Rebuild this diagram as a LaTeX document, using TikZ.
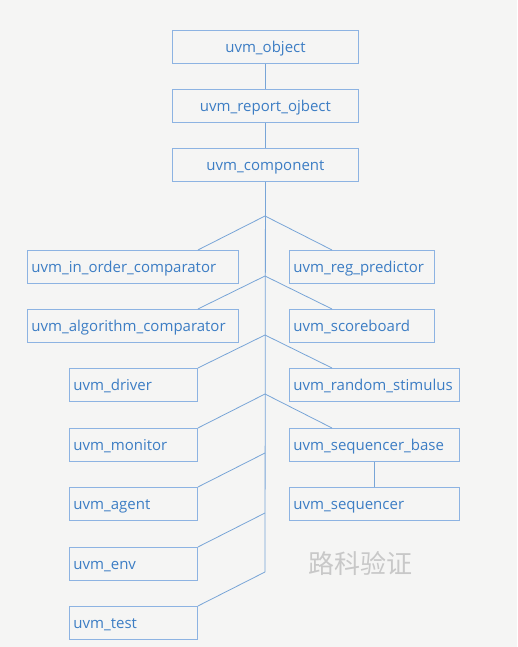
\documentclass[tikz,border=0pt]{standalone}
\usepackage{fontspec}
\setmainfont{Open Sans}
\newfontfamily\cjkfont{Noto Sans CJK SC}
\usepackage{xcolor}
\usepackage{tikz}
\usetikzlibrary{positioning, calc}
\definecolor{uvmBack}{RGB}{245, 245, 244}
\definecolor{uvmLine}{RGB}{141, 179, 226}
\definecolor{uvmEdge}{RGB}{120, 165, 215}
\definecolor{uvmText}{RGB}{60, 125, 196}
\definecolor{uvmMark}{RGB}{200, 200, 200}
\tikzset{
    base/.style={
        font=\fontsize{15}{17}\selectfont,
        text=uvmText
    },
    cls/.style={
        base,
        rectangle,
        draw=uvmLine,
        line width=0.9pt,
        fill=uvmBack,
        minimum height=33pt,
        text height=14pt,
        text depth=3pt,
        inner xsep=4pt,
        inner ysep=0pt,
        anchor=north west
    },
    topcls/.style={
        cls,
        minimum width=186pt
    },
    leftcls/.style={
        cls,
        text width=#1,
        align=left
    },
    link/.style={
        draw=uvmEdge,
        line width=0.8pt
    }
}

\begin{document}
\begin{tikzpicture}[x=1pt, y=-1pt]
  \useasboundingbox[fill=uvmBack] (0,0) rectangle (517,647);

  % Base classes
  \node[topcls] (obj) at (172,30) {uvm\_object};
  \node[topcls] (rpt) at (172,89) {uvm\_report\_ojbect};
  \node[topcls] (comp) at (172,148) {uvm\_component};

  % Left column
  \node[leftcls=203pt] (inorder) at (27,250) {uvm\_in\_order\_comparator};
  \node[leftcls=203pt] (algo) at (27,309) {uvm\_algorithm\_comparator};
  \node[leftcls=120pt] (drv) at (69,368) {uvm\_driver};
  \node[leftcls=120pt] (mon) at (69,428) {uvm\_monitor};
  \node[leftcls=120pt] (agt) at (69,487) {uvm\_agent};
  \node[leftcls=120pt] (env) at (69,547) {uvm\_env};
  \node[leftcls=120pt] (test) at (69,606) {uvm\_test};

  % Right column
  \node[leftcls=137pt] (regpred) at (289,250) {uvm\_reg\_predictor};
  \node[leftcls=137pt] (scb) at (289,309) {uvm\_scoreboard};
  \node[leftcls=162pt] (rand) at (289,368) {uvm\_random\_stimulus};
  \node[leftcls=162pt] (sqrbase) at (289,428) {uvm\_sequencer\_base};
  \node[leftcls=162pt] (sqr) at (289,487) {uvm\_sequencer};

  % Spine branch points
  \coordinate (b1) at (265,216);
  \coordinate (b2) at (265,276);
  \coordinate (b3) at (265,335);
  \coordinate (b4) at (265,394);
  \coordinate (b5) at (265,453);
  \coordinate (b6) at (265,513);
  \coordinate (b7) at (265,572);

  % Inheritance lines
  \draw[link] (obj) -- (rpt);
  \draw[link] (rpt) -- (comp);
  \draw[link] (comp.south) -- (b7);
  \draw[link] (b1) -- (drv.north east |- inorder.north);
  \draw[link] (b1) -- ($(regpred.north west)+(43,0)$);
  \draw[link] (b2) -- (drv.north east |- algo.north);
  \draw[link] (b2) -- ($(scb.north west)+(43,0)$);
  \draw[link] (b3) -- (drv.north east);
  \draw[link] (b3) -- ($(rand.north west)+(43,0)$);
  \draw[link] (b4) -- (mon.north east);
  \draw[link] (b4) -- ($(sqrbase.north west)+(43,0)$);
  \draw[link] (b5) -- (agt.north east);
  \draw[link] (b6) -- (env.north east);
  \draw[link] (b7) -- (test.north east);
  \draw[link] ($(sqrbase.south west)+(85,0)$) -- ($(sqr.north west)+(85,0)$);

  % Watermark
  \node[font=\cjkfont\fontsize{26}{28}\selectfont, text=uvmMark] (mark) at (360,563) {路科验证};
\end{tikzpicture}
\end{document}
